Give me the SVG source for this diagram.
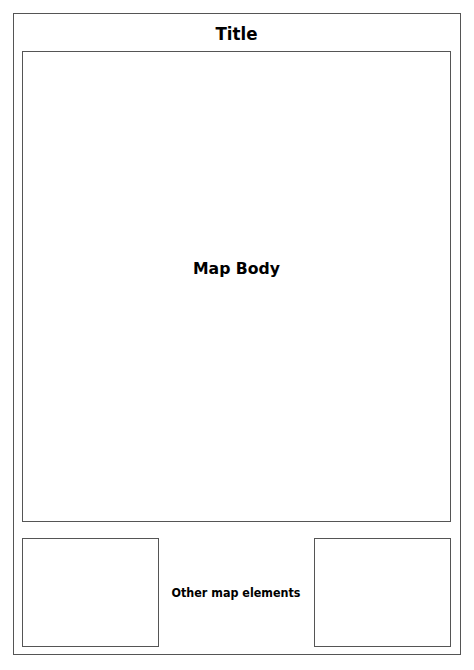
<svg xmlns="http://www.w3.org/2000/svg" width="474" height="670" viewBox="0 0 474 670">
<style>
.box{fill:#fff;stroke:#555;stroke-width:1}
.t{font-family:"DejaVu Sans",sans-serif;font-weight:bold;fill:#000;text-anchor:middle}
</style>
<rect width="474" height="670" fill="#fff"/>
<g id="frame"><rect class="box" x="13.5" y="13.5" width="447" height="641"/></g>
<g id="title"><text class="t" x="236.5" y="40" font-size="18" textLength="42" lengthAdjust="spacingAndGlyphs">Title</text></g>
<g id="map-body"><rect class="box" x="22.5" y="51.5" width="428" height="470"/>
<text class="t" x="236.5" y="274" font-size="16" textLength="87" lengthAdjust="spacingAndGlyphs">Map Body</text></g>
<g id="left-box"><rect class="box" x="22.5" y="538.5" width="136" height="108"/></g>
<g id="right-box"><rect class="box" x="314.5" y="538.5" width="136" height="108"/></g>
<g id="other"><text class="t" x="236" y="597" font-size="12" textLength="129" lengthAdjust="spacingAndGlyphs">Other map elements</text></g>
<g id="connectors"/>
</svg>
